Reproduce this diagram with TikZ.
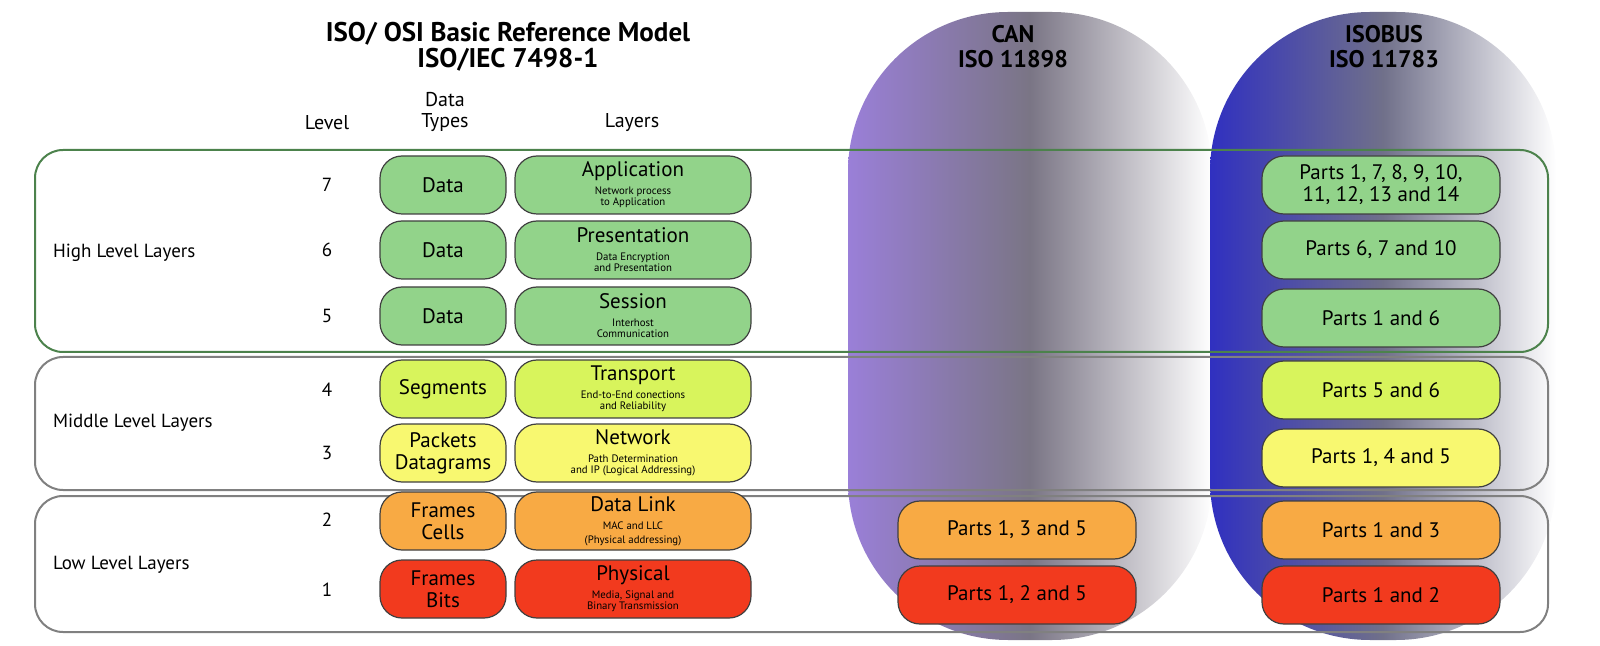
\documentclass[tikz,border=0pt]{standalone}
\usepackage{fontspec}
\setmainfont{PT Sans}
\newcommand\sbt{\fontsize{5.4}{5.6}\selectfont}
\begin{document}
\begin{tikzpicture}[x=0.5pt,y=-0.5pt,
  box/.style={draw=black!75,line width=0.6pt,rounded corners=11pt,minimum height=29pt,align=center,inner sep=1pt,font=\fontsize{10.5}{10}\selectfont},
  dt/.style={box,minimum width=63pt},
  ly/.style={box,minimum width=118pt},
  pt/.style={box,minimum width=119pt},
  grp/.style={rounded corners=14pt,line width=1pt},
  hdr/.style={font=\fontsize{10}{10.5}\selectfont,align=center},
  lbl/.style={font=\fontsize{9.5}{10}\selectfont,anchor=west}]
\useasboundingbox (0,0) rectangle (1600,646);
\definecolor{gA}{HTML}{92D38A}
\definecolor{gB}{HTML}{D8F45C}
\definecolor{gC}{HTML}{F8F870}
\definecolor{gD}{HTML}{F8AA44}
\definecolor{gE}{HTML}{F23A1E}
\definecolor{cvl}{HTML}{9A7FD8}
\definecolor{cgr}{HTML}{7A7585}
\definecolor{ibl}{HTML}{3030C0}
\definecolor{igr}{HTML}{70708A}
% columns
\shade[rounded corners=80pt,left color=cvl,right color=white,middle color=cgr] (848,12) rectangle (1212,640);
\shade[rounded corners=80pt,left color=ibl,right color=white,middle color=igr] (1210,12) rectangle (1556,640);
\node[font=\fontsize{12}{12.5}\selectfont\bfseries,align=center] (can) at (1013,47) {CAN\\ISO 11898};
\node[font=\fontsize{12}{12.5}\selectfont\bfseries,align=center] (iso) at (1384,47) {ISOBUS\\ISO 11783};
% title
\node[font=\fontsize{13.5}{13}\selectfont\bfseries,align=center] (title) at (508,47) {ISO/ OSI Basic Reference Model\\ISO/IEC 7498-1};
\node[hdr] (hlev) at (327,123) {Level};
\node[hdr] (hdt) at (445,112) {Data\\Types};
\node[hdr] (hly) at (632,123) {Layers};
% group boxes
\draw[grp,draw=green!30!black!70] (35,150) rectangle (1548,352);
\draw[grp,draw=black!50] (35,357) rectangle (1548,490);
\draw[grp,draw=black!50] (35,496) rectangle (1548,632);
\node[lbl] (gh) at (46,253) {High Level Layers};
\node[lbl] (gm) at (46,423) {Middle Level Layers};
\node[lbl] (gl) at (46,565) {Low Level Layers};
% levels
\foreach \n/\y in {7/185,6/250,5/316,4/390,3/453,2/520,1/590}
  \node[font=\fontsize{9.5}{10}\selectfont] (lv\n) at (327,\y) {\n};
% data types
\node[dt,fill=gA] (d7) at (443,185) {Data};
\node[dt,fill=gA] (d6) at (443,250) {Data};
\node[dt,fill=gA] (d5) at (443,316) {Data};
\node[dt,fill=gB] (d4) at (443,389) {Segments};
\node[dt,fill=gC] (d3) at (443,453) {Packets\\[1pt]Datagrams};
\node[dt,fill=gD] (d2) at (443,521) {Frames\\[1pt]Cells};
\node[dt,fill=gE] (d1) at (443,589) {Frames\\[1pt]Bits};
% layers
\node[ly,fill=gA] (l7) at (633,185) {Application\\[-1pt]{\sbt Network process}\\[-4.5pt]{\sbt to Application}};
\node[ly,fill=gA] (l6) at (633,250) {Presentation\\[-1pt]{\sbt Data Encryption}\\[-4.5pt]{\sbt and Presentation}};
\node[ly,fill=gA] (l5) at (633,316) {Session\\[-1pt]{\sbt Interhost}\\[-4.5pt]{\sbt Communication}};
\node[ly,fill=gB] (l4) at (633,389) {Transport\\[-1pt]{\sbt End-to-End conections}\\[-4.5pt]{\sbt and Reliability}};
\node[ly,fill=gC] (l3) at (633,453) {Network\\[-1pt]{\sbt Path Determination}\\[-4.5pt]{\sbt and IP (Logical Addressing)}};
\node[ly,fill=gD] (l2) at (633,521) {Data Link\\[-1pt]{\sbt MAC and LLC}\\[-3pt]{\sbt (Physical addressing)}};
\node[ly,fill=gE] (l1) at (633,589) {Physical\\[-1pt]{\sbt Media, Signal and}\\[-4.5pt]{\sbt Binary Transmission}};
% CAN parts
\node[pt,fill=gD] (c2) at (1017,530) {Parts 1, 3 and 5};
\node[pt,fill=gE] (c1) at (1017,595) {Parts 1, 2 and 5};
% ISOBUS parts
\node[pt,fill=gA] (i7) at (1381,185) {Parts 1, 7, 8, 9, 10,\\[1pt]11, 12, 13 and 14};
\node[pt,fill=gA] (i6) at (1381,250) {Parts 6, 7 and 10};
\node[pt,fill=gA] (i5) at (1381,318) {Parts 1 and 6};
\node[pt,fill=gB] (i4) at (1381,390) {Parts 5 and 6};
\node[pt,fill=gC] (i3) at (1381,458) {Parts 1, 4 and 5};
\node[pt,fill=gD] (i2) at (1381,530) {Parts 1 and 3};
\node[pt,fill=gE] (i1) at (1381,595) {Parts 1 and 2};
\end{tikzpicture}
\end{document}
